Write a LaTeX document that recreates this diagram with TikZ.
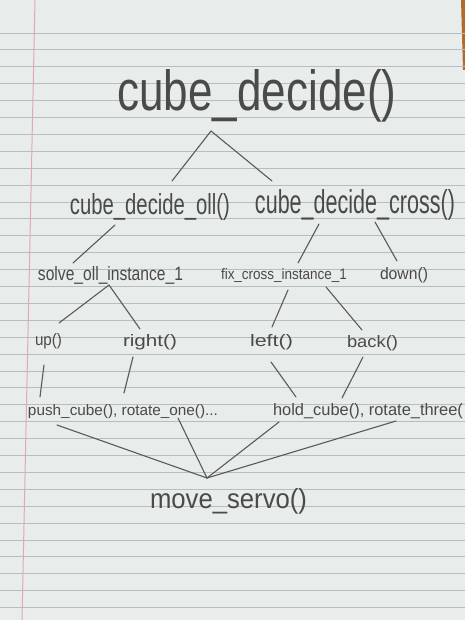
\documentclass[tikz,border=0pt]{standalone}
\usepackage{graphicx}
\usepackage{fontspec}
\setmainfont{Liberation Sans}
\usetikzlibrary{calc}
\definecolor{paper}{HTML}{E8ECEA}
\definecolor{rule}{HTML}{B4BEC6}
\definecolor{margin}{HTML}{E2A9B4}
\definecolor{ink}{HTML}{4A4A4A}
\definecolor{pencil}{HTML}{5A5A5A}
\definecolor{desk}{HTML}{B06A2C}
\newcommand{\hw}[3]{\resizebox{#1pt}{#2pt}{#3}}
\tikzset{
  lbl/.style={inner sep=0pt, anchor=base, text=ink, font=\fontsize{20}{24}\selectfont},
  conn/.style={draw=pencil, line width=1.1pt, line cap=round}
}
\begin{document}
\begin{tikzpicture}[x=1pt,y=-1pt]
\useasboundingbox (0,0) rectangle (465,620);
\fill[paper] (0,0) rectangle (465,620);
\fill[desk] (461,0) -- (465,0) -- (465,70) -- (463,70) -- cycle;
\foreach \i in {0,...,34} {
  \draw[rule, line width=0.9pt] (0,{33+16.9*\i}) -- (465,{33+16.9*\i});
}
\draw[margin, line width=1pt] (35,0) -- (22,620);

% nodes
\node[lbl] (top) at (257,111) {\hw{279}{41}{cube\_decide()}};
\node[lbl] (oll) at (150,214) {\hw{160}{21}{cube\_decide\_oll()}};
\node[lbl] (cross) at (355,213) {\hw{200}{24}{cube\_decide\_cross()}};
\node[lbl] (solve) at (110.5,280) {\hw{145}{14}{solve\_oll\_instance\_1}};
\node[lbl] (fix) at (284,279) {\hw{126}{11}{fix\_cross\_instance\_1}};
\node[lbl] (down) at (404,279) {\hw{48}{12}{down()}};
\node[lbl] (up) at (48.5,345) {\hw{27}{12}{up()}};
\node[lbl] (right) at (150,346) {\hw{54}{12}{right()}};
\node[lbl] (left) at (271.5,346) {\hw{43}{12}{left()}};
\node[lbl] (back) at (372.5,347) {\hw{51}{12}{back()}};
\node[lbl] (push) at (123,415) {\hw{190}{11}{push\_cube(), rotate\_one()...}};
\node[lbl] (hold) at (368,415) {\hw{190}{12}{hold\_cube(), rotate\_three(}};
\node[lbl] (servo) at (228.5,508) {\hw{157}{20}{move\_servo()}};

% connectors
\draw[conn] ([shift={(-46,20)}]top.base) -- ([shift={(22,-33)}]oll.base);
\draw[conn] ([shift={(-46,20)}]top.base) -- ([shift={(-83,-32)}]cross.base);

\draw[conn] ([shift={(-35,11)}]oll.base) -- ([shift={(-37.5,-17)}]solve.base);
\draw[conn] ([shift={(-36,11)}]cross.base) -- ([shift={(14,-16)}]fix.base);
\draw[conn] ([shift={(20,9)}]cross.base) -- ([shift={(-7,-18)}]down.base);

\draw[conn] ([shift={(-1.5,5)}]solve.base) -- ([shift={(10.5,-22)}]up.base);
\draw[conn] ([shift={(-1.5,5)}]solve.base) -- ([shift={(-10,-17)}]right.base);
\draw[conn] ([shift={(4,11)}]fix.base) -- ([shift={(0.5,-19)}]left.base);
\draw[conn] ([shift={(42,8)}]fix.base) -- ([shift={(-10.5,-17)}]back.base);

\draw[conn] ([shift={(-4.5,20)}]up.base) -- ([shift={(-83,-18)}]push.base);
\draw[conn] ([shift={(-17,11)}]right.base) -- ([shift={(1,-22)}]push.base);
\draw[conn] ([shift={(-0.5,16)}]left.base) -- ([shift={(-72,-18)}]hold.base);
\draw[conn] ([shift={(-9.5,10)}]back.base) -- ([shift={(-26,-17)}]hold.base);

\draw[conn] ([shift={(-66,10)}]push.base) -- ([shift={(-21.5,-30)}]servo.base);
\draw[conn] ([shift={(55,3)}]push.base) -- ([shift={(-21.5,-30)}]servo.base);
\draw[conn] ([shift={(-89,7)}]hold.base) -- ([shift={(-21.5,-30)}]servo.base);
\draw[conn] ([shift={(28,6)}]hold.base) -- ([shift={(-21.5,-30)}]servo.base);
\end{tikzpicture}
\end{document}
